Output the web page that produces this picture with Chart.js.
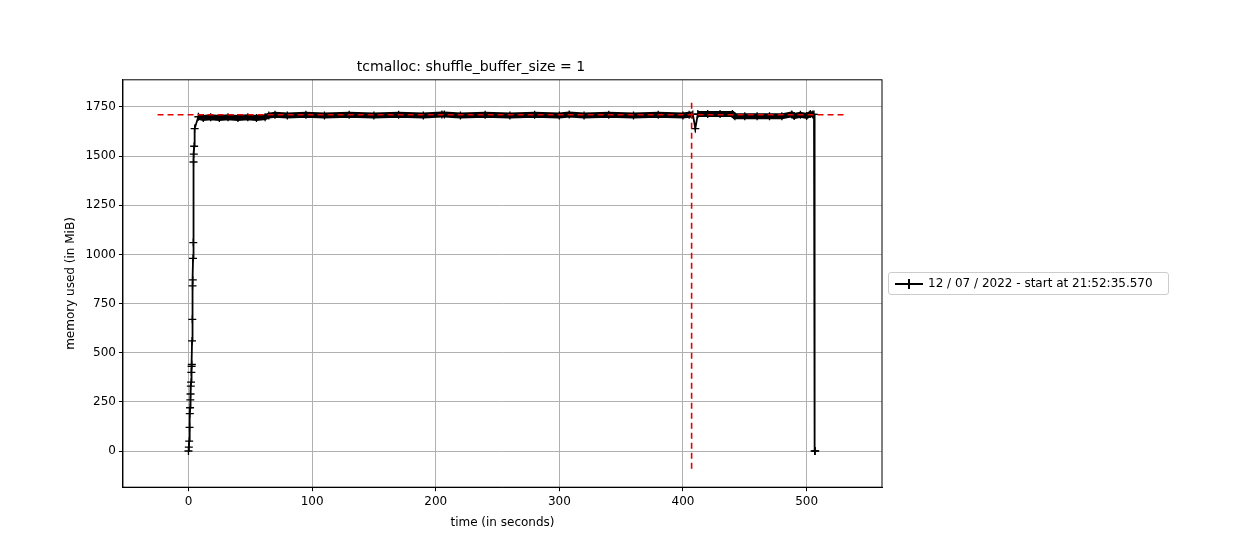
<!DOCTYPE html>
<html>
<head>
<meta charset="utf-8">
<script src="https://cdn.jsdelivr.net/npm/chart.js@4"></script>
<style>
  body { margin: 0; background: #fff; font-family: "DejaVu Sans", sans-serif; }
  #wrap { position: relative; width: 1260px; height: 540px; }
  #legend { position: absolute; left: 888px; top: 272px; width: 279px; height: 21px; white-space: nowrap;
    border: 1px solid #ccc; border-radius: 3px; font-size: 12px; line-height: 21px; color: #000; background: #fff; }
  #legend span.mk { position: absolute; left: 6px; top: 10px; width: 28px; height: 2px; background: #000; }
  #legend span.mk:after { content: ""; position: absolute; left: 13px; top: -4px; width: 2px; height: 10px; background: #000; }
  #legend span.tx { position: absolute; left: 39px; }
</style>
</head>
<body>
<div id="wrap">
  <canvas id="myChart" width="1260" height="540"></canvas>
  <div id="legend"><span class="mk"></span><span class="tx">12 / 07 / 2022 - start at 21:52:35.570</span></div>
</div>
<script>
// memory samples (seconds, MiB)
const times = [0, 0.3, 0.6, 0.9, 1.1, 1.3, 1.5, 1.7, 1.9, 2.1, 2.3, 2.5, 2.7, 2.9, 3.1, 3.3, 3.5, 3.7, 3.9, 4.1, 4.3, 4.6, 5,
  8, 12, 18, 25, 32, 40, 48, 55, 62, 65, 70, 80, 95, 110, 130, 150, 170, 190, 205, 207, 220, 240, 260, 280, 300, 308, 320,
  340, 360, 380, 400, 405, 408, 410, 412, 420, 430, 440, 442, 450, 460, 470, 480, 488, 490, 495, 500, 503, 505, 506, 506.5, 507];
const memory = [0, 20, 50, 120, 190, 220, 260, 290, 330, 350, 400, 430, 440, 560, 670, 840, 870, 980, 1060, 1470, 1510, 1550, 1640,
  1700, 1694, 1698, 1694, 1698, 1694, 1698, 1694, 1698, 1706, 1710, 1706, 1710, 1706, 1710, 1706, 1710, 1706, 1712, 1712, 1706,
  1710, 1706, 1710, 1706, 1712, 1706, 1710, 1706, 1710, 1706, 1710, 1712, 1640, 1714, 1714, 1714, 1714, 1702, 1702, 1702, 1702,
  1702, 1712, 1704, 1710, 1704, 1714, 1712, 1712, 0, 0];
const hLine = { x: [-25, 533], y: 1710 };
const vLine = { x: 407, y: [-90, 1790] };
const xTicks = [0, 100, 200, 300, 400, 500];
const yTicks = [0, 250, 500, 750, 1000, 1250, 1500, 1750];

const pts = times.map((t, i) => ({ x: t, y: memory[i] }));
const font = { family: 'DejaVu Sans', size: 12 };
const onPlateau = c => c.p0.parsed.y > 1680 && c.p1.parsed.y > 1680;

new Chart(document.getElementById('myChart'), {
  type: 'scatter',
  data: {
    datasets: [
      { data: pts, showLine: true, borderColor: '#000', borderWidth: 1.8, pointStyle: 'crossRot', rotation: 45,
        pointRadius: 4, pointBorderWidth: 1.3, pointBorderColor: '#000', order: 2,
        segment: { borderWidth: c => onPlateau(c) ? 6 : 1.8 } },
      { data: [{ x: hLine.x[0], y: hLine.y }, { x: hLine.x[1], y: hLine.y }], showLine: true, borderColor: '#e00000',
        borderWidth: 1.6, borderDash: [6, 4], pointRadius: 0, order: 1 },
      { data: [{ x: vLine.x, y: vLine.y[0] }, { x: vLine.x, y: vLine.y[1] }], showLine: true, borderColor: '#e00000',
        borderWidth: 1.6, borderDash: [6, 4], pointRadius: 0, order: 1 }
    ]
  },
  options: {
    responsive: false,
    animation: false,
    layout: { padding: { left: 60, right: 378, top: 59, bottom: 6 } },
    plugins: {
      legend: { display: false },
      tooltip: { enabled: false },
      title: { display: true, text: 'tcmalloc: shuffle_buffer_size = 1', color: '#000',
        font: { family: 'DejaVu Sans', size: 14, weight: 'normal' }, padding: { top: 0, bottom: 4 } }
    },
    scales: {
      x: { type: 'linear', min: -53, max: 561,
        afterBuildTicks: s => { s.ticks = xTicks.map(v => ({ value: v })); },
        ticks: { color: '#000', font: font, callback: v => String(v) },
        grid: { color: '#b0b0b0', tickColor: '#000', tickLength: 4 },
        border: { color: '#000' },
        title: { display: true, text: 'time (in seconds)', color: '#000', font: font } },
      y: { min: -184, max: 1888,
        afterBuildTicks: s => { s.ticks = yTicks.map(v => ({ value: v })); },
        ticks: { color: '#000', font: font, callback: v => String(v) },
        grid: { color: '#b0b0b0', tickColor: '#000', tickLength: 4 },
        border: { color: '#000' },
        title: { display: true, text: 'memory used (in MiB)', color: '#000', font: font } }
    }
  },
  plugins: [{
    id: 'frame',
    afterDraw(c) {
      const a = c.chartArea, g = c.ctx;
      g.save(); g.strokeStyle = '#000'; g.lineWidth = 1;
      g.strokeRect(a.left, a.top, a.right - a.left, a.bottom - a.top);
      g.restore();
    }
  }]
});
</script>
</body>
</html>
